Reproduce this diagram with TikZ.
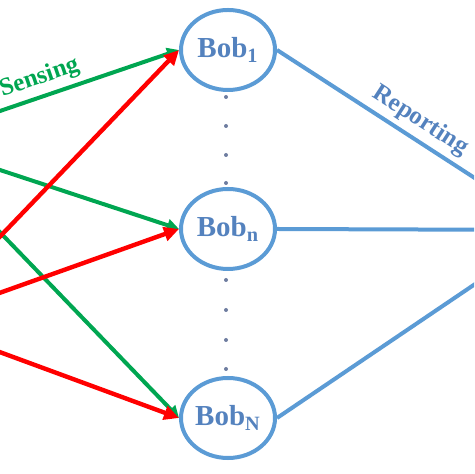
\documentclass[tikz,border=0pt]{standalone}
\usepackage{fontspec}
\setmainfont{Liberation Serif}
\usetikzlibrary{positioning, shapes, arrows.meta}
\definecolor{bobline}{RGB}{91,155,213}
\definecolor{bobtext}{RGB}{84,130,190}
\definecolor{sensegreen}{RGB}{0,166,81}
\definecolor{dotgrey}{RGB}{110,125,160}

\begin{document}
\begin{tikzpicture}[x=0.5pt, y=0.5pt,
    bob/.style={ellipse, draw=bobline, line width=2pt, minimum width=47pt, minimum height=40pt, inner sep=0pt, text=bobtext, font=\bfseries\fontsize{14.5}{16}\selectfont},
    greenarrow/.style={-{Triangle[length=6pt,width=6pt]}, draw=sensegreen, line width=2pt},
    redarrow/.style={-{Triangle[length=7.5pt,width=7pt]}, draw=red, line width=2.2pt},
    report/.style={draw=bobline, line width=2pt},
    lbl/.style={sloped, above, inner sep=2.5pt, font=\bfseries\fontsize{12.5}{14}\selectfont}]
      \useasboundingbox (0,0) rectangle (474,474);
      \clip (0,0) rectangle (474,474);

      % Bobs
      \node[bob] (bob1) at (228,424) {Bob\textsubscript{1}};
      \node[bob] (bobn) at (228,245) {Bob\textsubscript{n}};
      \node[bob] (bobN) at (228,56) {Bob\textsubscript{N}};

      % dots between the Bobs
      \foreach \y in {377,348,319,291,194,164,134,105}
        \fill[dotgrey] (226,\y) circle (1pt);

      % ends outside the picture
      \coordinate (alice) at (-88,333);
      \coordinate (eve) at (-82,152);
      \coordinate (fc) at (555,244);

      % Sensing
      \draw[greenarrow] (alice) -- node[lbl, pos=0.5, text=sensegreen] {Sensing} (bob1.west);
      \draw[greenarrow] (alice) -- (bobn.west);
      \draw[greenarrow] (alice) -- (bobN.west);

      \draw[redarrow] (eve) -- (bob1.west);
      \draw[redarrow] (eve) -- (bobn.west);
      \draw[redarrow] (eve) -- (bobN.west);

      % Reporting
      \draw[report] (bob1.east) -- node[lbl, pos=0.48, text=bobtext] {Reporting} (fc);
      \draw[report] (bobn.east) -- (fc);
      \draw[report] (bobN.east) -- (fc);
    \end{tikzpicture}
\end{document}
